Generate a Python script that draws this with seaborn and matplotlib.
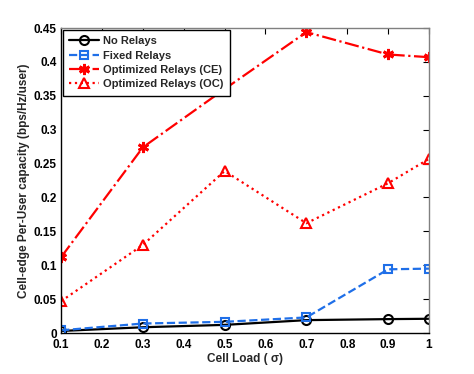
import matplotlib
matplotlib.use("Agg")
import matplotlib.pyplot as plt
import seaborn as sns
import numpy as np

cell_load = [0.1, 0.3, 0.5, 0.7, 0.9, 1.0]
no_relays = [0.003, 0.0085, 0.012, 0.019, 0.0205, 0.021]
fixed_relays = [0.004, 0.014, 0.0165, 0.023, 0.094, 0.095]
opt_ce = [0.112, 0.274, 0.36, 0.444, 0.411, 0.407]
opt_oc = [0.047, 0.130, 0.239, 0.162, 0.221, 0.257]

x_ticks = [0.1, 0.2, 0.3, 0.4, 0.5, 0.6, 0.7, 0.8, 0.9, 1.0]
x_ticklabels = ["0.1", "0.2", "0.3", "0.4", "0.5", "0.6", "0.7", "0.8", "0.9", "1"]
y_ticks = [0, 0.05, 0.1, 0.15, 0.2, 0.25, 0.3, 0.35, 0.4, 0.45]
y_ticklabels = ["0", "0.05", "0.1", "0.15", "0.2", "0.25", "0.3", "0.35", "0.4", "0.45"]

sns.set_style("white")
plt.rcParams['font.family'] = ['Liberation Sans', 'DejaVu Sans']
plt.rcParams['font.weight'] = 'bold'

fig = plt.figure(figsize=(4.74, 3.74), dpi=100)
ax = fig.add_axes([0.129, 0.1096, 0.776, 0.8154])

blue = '#1f6fe8'
red = '#ff0000'
asterisk = (6, 2, 0)

sns.lineplot(x=cell_load, y=no_relays, ax=ax, color='black', linestyle='-',
             marker='o', markersize=6.5, markerfacecolor='none', markeredgecolor='black',
             markeredgewidth=1.5, linewidth=1.6, label='No Relays')
sns.lineplot(x=cell_load, y=fixed_relays, ax=ax, color=blue, linestyle='--',
             marker='s', markersize=6, markerfacecolor='none', markeredgecolor=blue,
             markeredgewidth=1.5, linewidth=1.6, label='Fixed Relays')
sns.lineplot(x=cell_load, y=opt_ce, ax=ax, color=red, linestyle='-.',
             marker=asterisk, markersize=8, markeredgecolor=red,
             markeredgewidth=2.0, linewidth=1.6, label='Optimized Relays (CE)')
sns.lineplot(x=cell_load, y=opt_oc, ax=ax, color=red, linestyle=':',
             marker='^', markersize=7.5, markerfacecolor='none', markeredgecolor=red,
             markeredgewidth=1.5, linewidth=1.6, label='Optimized Relays (OC)')

ax.set_xlim(0.1, 1.0)
ax.set_ylim(0, 0.45)
ax.set_xticks(x_ticks)
ax.set_xticklabels(x_ticklabels, fontsize=8.5, fontweight='bold')
ax.set_yticks(y_ticks)
ax.set_yticklabels(y_ticklabels, fontsize=8.5, fontweight='bold')
ax.tick_params(direction='in', length=4, width=0.8, top=True, right=True,
               colors='black')
ax.tick_params(axis='x', pad=4)
ax.tick_params(axis='y', pad=3)
for side in ['top', 'right']:
    ax.spines[side].set_color('#808080')
for side in ['left', 'bottom']:
    ax.spines[side].set_color('black')
for s in ax.spines.values():
    s.set_linewidth(1.0)

ax.set_xlabel('Cell Load ( σ)', fontsize=8.5, fontweight='bold', labelpad=2)
ax.set_ylabel('Cell-edge Per-User capacity (bps/Hz/user)', fontsize=8.5,
              fontweight='bold', labelpad=3)

leg = ax.legend(loc='upper left', fontsize=8, frameon=True, fancybox=False,
                edgecolor='black', framealpha=1, borderpad=0.6, labelspacing=0.38,
                handlelength=2.7, handletextpad=0.3, borderaxespad=0.15)
leg.get_frame().set_linewidth(1.0)
for t in leg.get_texts():
    t.set_fontweight('bold')

fig.savefig('out.png', dpi=100)
